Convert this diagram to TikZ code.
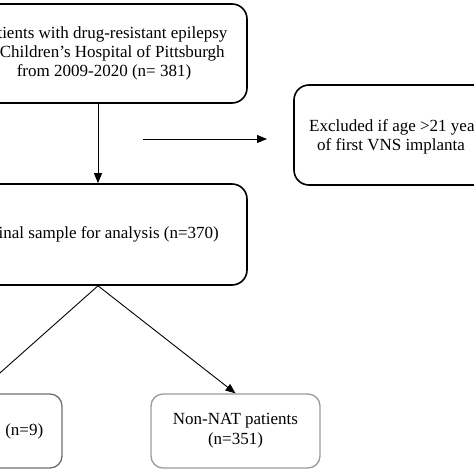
\documentclass[tikz,border=0pt]{standalone}
\usepackage{fontspec}
\setmainfont{Liberation Serif}
\usetikzlibrary{arrows.meta}
\tikzset{
  mainbox/.style={draw=black, line width=1.6pt, rounded corners=15pt, rectangle, align=center,
    font=\fontsize{17}{19}\selectfont, inner sep=0pt},
  subbox/.style={line width=1.3pt, rounded corners=12pt, rectangle, align=center,
    font=\fontsize{17}{20}\selectfont, inner sep=0pt},
  txt/.style={align=left, font=\fontsize{17}{19}\selectfont, inner sep=0pt},
  arr/.style={line width=0.9pt, -{Triangle[length=10pt,width=8pt]}}
}
\definecolor{darkgrey}{HTML}{6E6E6E}
\definecolor{lightgrey}{HTML}{9A9A9A}
\begin{document}
\begin{tikzpicture}[x=1pt,y=-1pt]
\useasboundingbox (0,0) rectangle (474,474);
\clip (0,0) rectangle (474,474);
\node[mainbox, minimum width=286pt, minimum height=99pt] (top) at (104,53.5)
  {\hphantom{Pa}tients with drug-resistant epilepsy\\
   \hphantom{at }Children’s Hospital of Pittsburgh\\
   from 2009-2020 (n= 381)};
\node[mainbox, minimum width=286pt, minimum height=101pt] (mid) at (104,234.5)
  {\hphantom{F}inal sample for analysis (n=370)};
\node[mainbox, minimum width=230pt, minimum height=100pt] (excl) at (409,135) {};
\node[txt, anchor=west] (excltext) at (309,137)
  {Excluded if age >21 yea\\ \hspace*{8pt}of first VNS implanta};
\node[subbox, draw=darkgrey, minimum width=170pt, minimum height=74pt] (nat) at (-23,431)
  {\hphantom{NAT patients }(n=9)};
\node[subbox, draw=lightgrey, minimum width=169pt, minimum height=74pt] (nonnat) at (235.5,431)
  {Non-NAT patients\\(n=351)};
\coordinate (hstart) at (143,139);
\coordinate (hend) at (267,139);
\draw[arr] ([xshift=-6pt]top.south) -- ([xshift=-6pt]mid.north);
\draw[arr] (hstart) -- (hend);
\draw[arr] ([xshift=-6pt]mid.south) -- (nat.north);
\draw[arr] ([xshift=-6pt]mid.south) -- (nonnat.north);
\end{tikzpicture}
\end{document}
